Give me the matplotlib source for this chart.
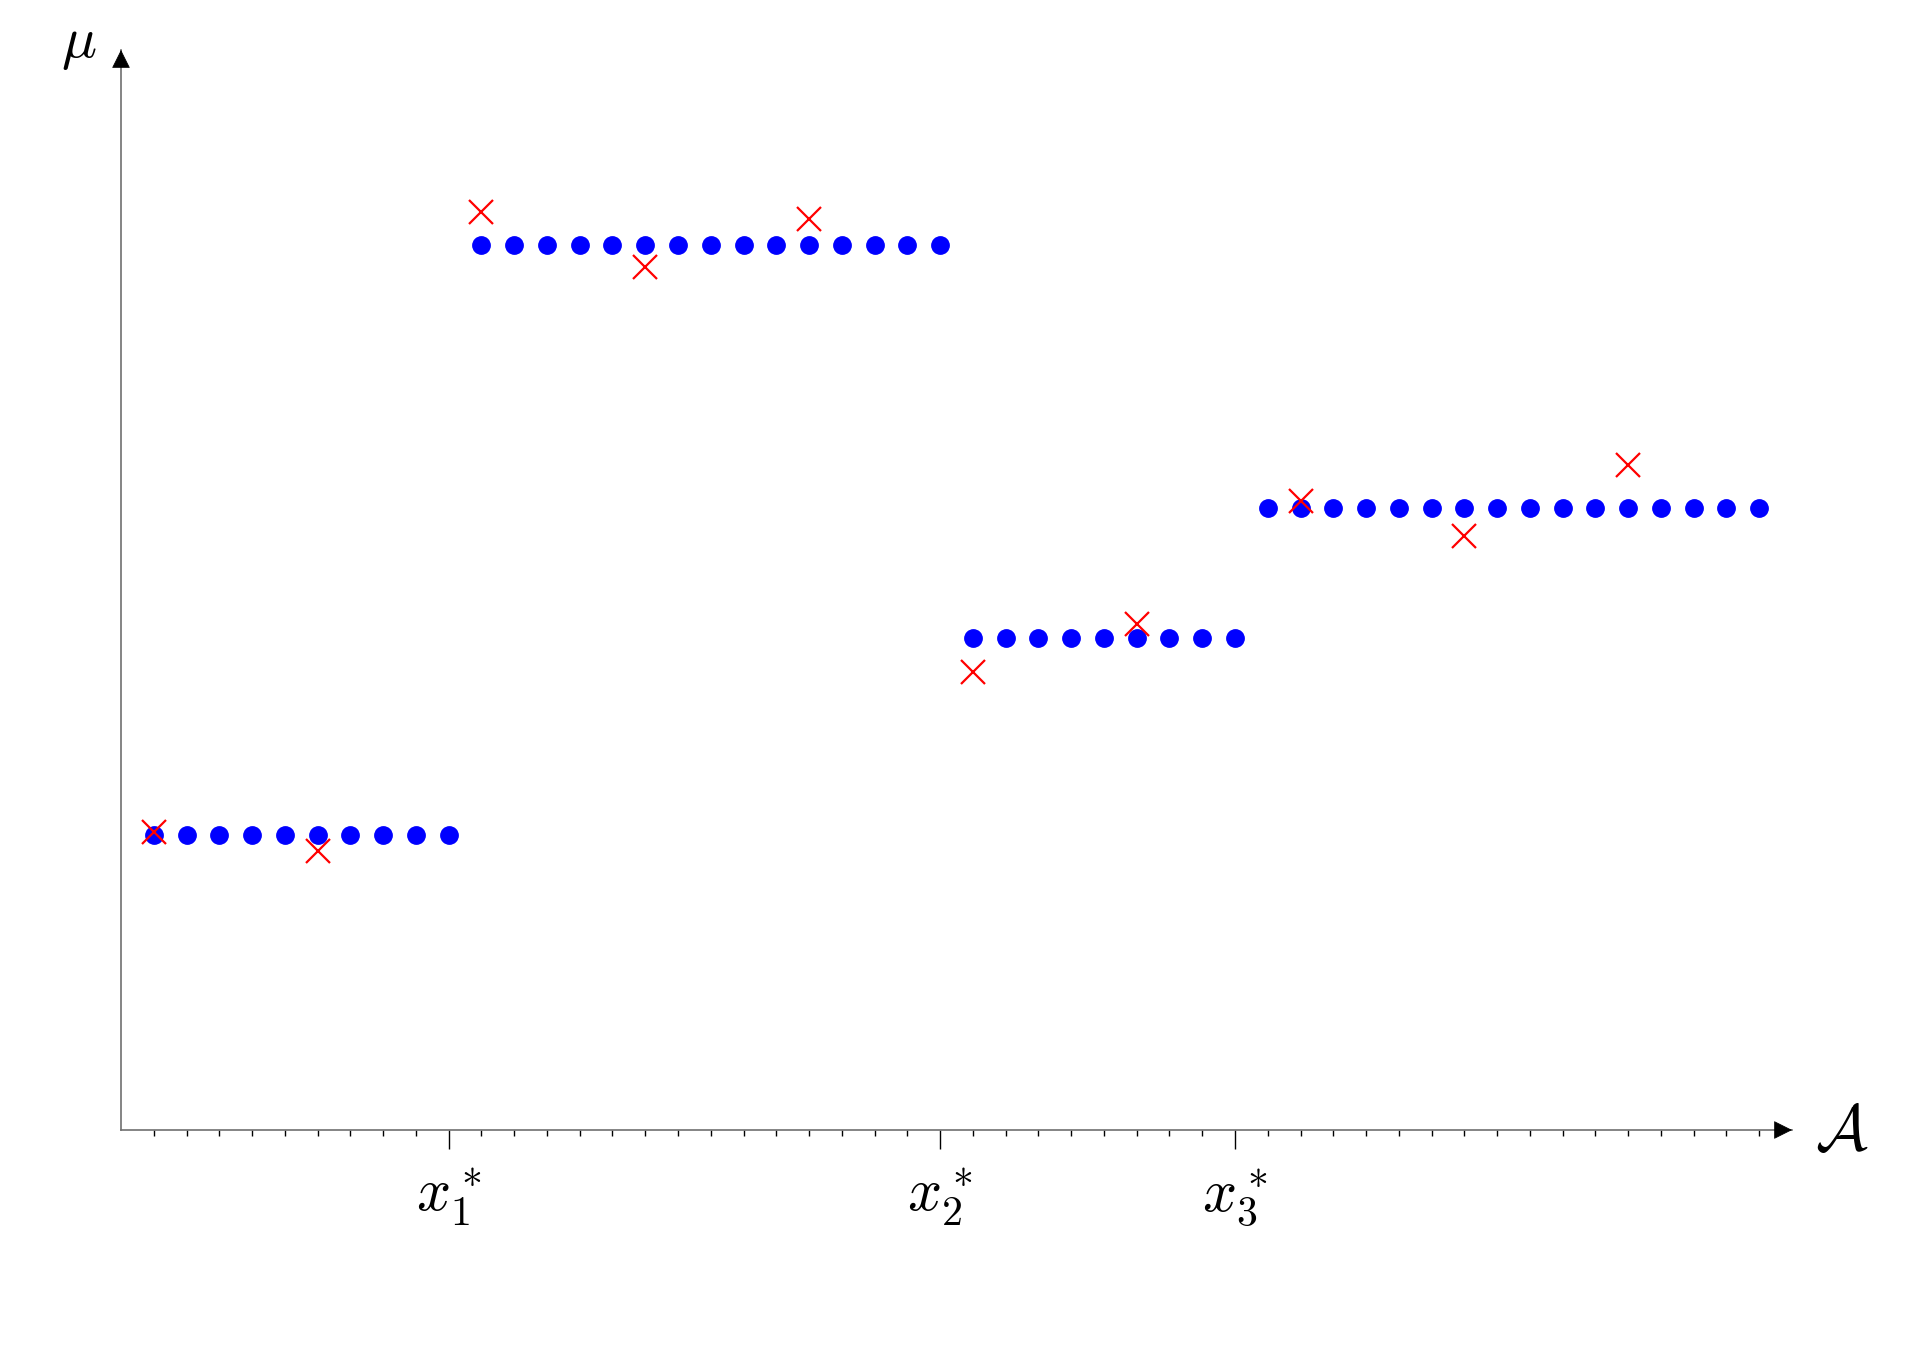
import matplotlib
matplotlib.use("Agg")
import matplotlib.pyplot as plt

plt.rcParams['mathtext.fontset'] = 'cm'

# true mean per arm (blue dots)
arms = list(range(1, 51))
mu_true = [1.0] * 10 + [3.0] * 15 + [1.667] * 9 + [2.11] * 16

# sampled observations (red crosses)
obs_x = [1, 6, 11, 16, 21, 26, 31, 36, 41, 46]
obs_y = [1.011, 0.947, 3.113, 2.924, 3.087, 1.554, 1.715, 2.133, 2.015, 2.253]

# change points
cp_x = [10, 25, 34]
cp_labels = [r'$x_1^*$', r'$x_2^*$', r'$x_3^*$']

W, H = 1928, 1364
fig = plt.figure(figsize=(W / 100, H / 100), dpi=100)
ax = fig.add_axes([121 / W, (H - 1130) / H, (1792 - 121) / W, 1080 / H])
ax.set_xlim(0, 51.0)
ax.set_ylim(0, 3.661)

ax.plot(arms, mu_true, 'o', color='#0000ff', markersize=12.5, zorder=3,
        clip_on=False)
ax.plot(obs_x, obs_y, 'x', color='#ff0000', markersize=17, mew=1.6,
        zorder=4, clip_on=False)

for s in ['top', 'right']:
    ax.spines[s].set_visible(False)
for s in ['left', 'bottom']:
    ax.spines[s].set_color('#707070')
    ax.spines[s].set_linewidth(1.2)

ax.set_yticks([])
ax.set_xticks(arms, minor=True)
ax.set_xticks(cp_x)
ax.set_xticklabels(cp_labels, fontsize=43)
ax.tick_params(axis='x', which='minor', length=4.5, width=1, color='k')
ax.tick_params(axis='x', which='major', length=14, width=1, color='k', pad=12)

# arrow heads on both axes
head = dict(arrowstyle='-|>,head_length=1,head_width=0.5', color='k',
            lw=0.5, shrinkA=0, shrinkB=0, mutation_scale=12)
ax.annotate('', xy=(1, 0), xycoords='axes fraction', xytext=(-17, 0),
            textcoords='offset pixels', arrowprops=head, annotation_clip=False)
ax.annotate('', xy=(0, 1), xycoords='axes fraction', xytext=(0, -17),
            textcoords='offset pixels', arrowprops=head, annotation_clip=False)

fig.text(79 / W, 1 - 44 / H, r'$\mu$', fontsize=42, ha='center', va='center')
fig.text(1842 / W, 1 - 1132 / H, r'$\mathcal{A}$', fontsize=46,
         ha='center', va='center')

fig.savefig('out.png', dpi=100)
